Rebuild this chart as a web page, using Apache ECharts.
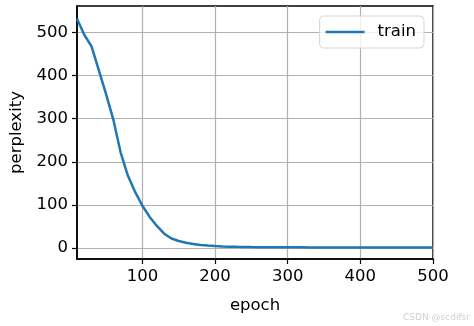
<!DOCTYPE html>
<html>
<head>
<meta charset="utf-8">
<script src="https://cdn.jsdelivr.net/npm/echarts@6/dist/echarts.min.js"></script>
<style>
html,body{margin:0;padding:0;background:#fff;}
#chart{width:474px;height:326px;}
</style>
</head>
<body>
<div id="chart"></div>
<script>
const epochs = [10,20,30,40,50,60,70,80,90,100,110,120,130,140,150,160,170,180,190,200,210,220,230,240,250,260,270,280,290,300,310,320,330,340,350,360,370,380,390,400,410,420,430,440,450,460,470,480,490,500];
const perplexity = [532,495,468,413,357,298,222,168,130,98,72,51,33,22,16,12,9,7,5.5,4.4,3.6,3.0,2.6,2.3,2.0,1.8,1.7,1.6,1.5,1.4,1.35,1.3,1.27,1.24,1.21,1.19,1.17,1.15,1.13,1.12,1.11,1.10,1.09,1.08,1.07,1.06,1.06,1.05,1.05,1.04];
const xTicks = [100,200,300,400,500];
const yTicks = [0,100,200,300,400,500];
const seriesName = 'train';
const xName = 'epoch';
const yName = 'perplexity';
const watermark = 'CSDN @scdifsr';

const font = 'DejaVu Sans';
const fs = 16.5;
const chart = echarts.init(document.getElementById('chart'), null, {renderer:'canvas'});
chart.setOption({
  animation:false,
  backgroundColor:'#fff',
  grid:{left:77, top:6, right:41, bottom:67, show:true, borderColor:'#000', borderWidth:1.5, containLabel:false},
  legend:{
    data:[{name:seriesName, icon:'rect'}], right:50, top:16, orient:'vertical',
    itemWidth:39, itemHeight:2.5, padding:[7,8,7,6],
    backgroundColor:'rgba(255,255,255,0.8)', borderColor:'#d6d6d6', borderWidth:1, borderRadius:4,
    textStyle:{fontFamily:font, fontSize:fs, color:'#000', padding:[0,0,0,8], lineHeight:18}
  },
  xAxis:{
    type:'value', min:10, max:500,
    name:xName, nameLocation:'middle', nameGap:38,
    nameTextStyle:{fontFamily:font, fontSize:fs, color:'#000'},
    axisLine:{show:true, onZero:false, lineStyle:{color:'#000', width:1.5}},
    axisTick:{show:true, length:5, lineStyle:{color:'#000', width:1.2}, customValues:xTicks},
    axisLabel:{fontFamily:font, fontSize:fs, color:'#000', margin:9, customValues:xTicks},
    splitLine:{show:true, lineStyle:{color:'#b0b0b0', width:1.2}}
  },
  yAxis:{
    type:'value', min:-25.7, max:561.7,
    name:yName, nameLocation:'middle', nameGap:52,
    nameTextStyle:{fontFamily:font, fontSize:fs, color:'#000'},
    axisLine:{show:true, onZero:false, lineStyle:{color:'#000', width:1.5}},
    axisTick:{show:true, length:5, lineStyle:{color:'#000', width:1.2}, customValues:yTicks},
    axisLabel:{fontFamily:font, fontSize:fs, color:'#000', margin:9, customValues:yTicks},
    splitLine:{show:true, lineStyle:{color:'#b0b0b0', width:1.2}}
  },
  graphic:[{type:'text', right:4, bottom:4, style:{text:watermark, fontFamily:font, fontSize:9, fill:'#cfcfcf'}}],
  series:[{
    name:seriesName, type:'line', data:epochs.map((e,i)=>[e, perplexity[i]]),
    symbol:'none', lineStyle:{color:'#1f77b4', width:2.5}, itemStyle:{color:'#1f77b4'}
  }]
});
</script>
</body>
</html>
